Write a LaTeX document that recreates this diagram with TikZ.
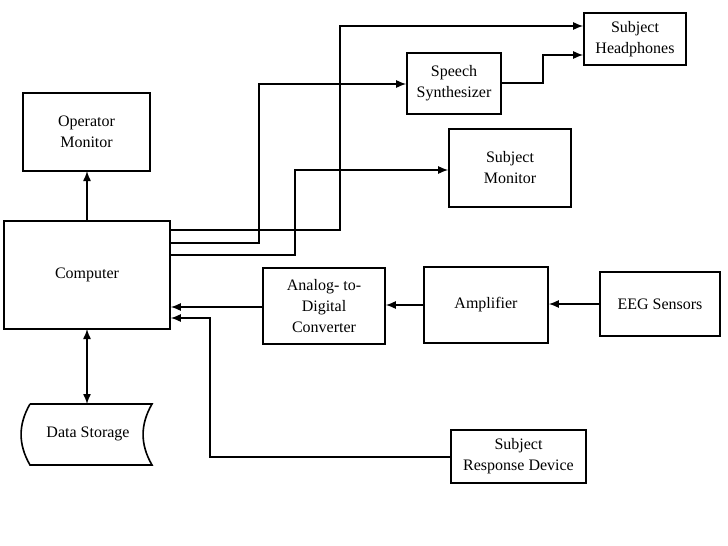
\documentclass[tikz,border=0pt]{standalone}
\usepackage{fontspec}
\setmainfont{Liberation Serif}
\usetikzlibrary{arrows.meta}
\begin{document}
\begin{tikzpicture}[x=1pt,y=-1pt,
  box/.style={draw,line width=1.6pt,align=center,inner sep=0pt,font=\fontsize{16}{21}\selectfont},
  ar/.style={line width=1.4pt,-{Latex[length=10pt,width=8pt]}},
  ln/.style={line width=1.4pt}]
\useasboundingbox (0,0) rectangle (728,546);
\newcommand{\bx}[6]{\node[box,minimum width=#4-#2,minimum height=#5-#3] (#1) at ({(#2+#4)/2},{(#3+#5)/2}) {#6};}
\bx{om}{23}{93}{150}{171}{Operator\\Monitor}
\bx{comp}{4}{221}{170}{329}{Computer}
\bx{sp}{407}{53}{501}{114}{Speech\\Synthesizer}
\bx{hp}{584}{13}{686}{65}{Subject\\Headphones}
\bx{sm}{449}{129}{571}{207}{Subject\\Monitor}
\bx{adc}{263}{268}{385}{344}{Analog- to-\\Digital\\Converter}
\bx{amp}{424}{267}{548}{343}{Amplifier}
\bx{eeg}{600}{272}{720}{336}{EEG Sensors}
\bx{srd}{451}{430}{586}{483}{Subject\\Response Device}
% data storage
\draw[line width=1.6pt] (30,404) -- (152,404) to[out=240,in=120] (152,465) -- (30,465) to[out=120,in=240] (30,404);
\node[font=\fontsize{16}{21}\selectfont] (ds) at (88,434) {Data Storage};
\coordinate (dstop) at (87,404);
% connectors
\draw[ar] (87,221) -- (87,171);
\draw[line width=1.4pt,{Latex[length=10pt,width=8pt]}-{Latex[length=10pt,width=8pt]}] (87,329) -- (dstop);
\draw[ar] (170,230) -| (340,26) -- (hp.west |- 0,26);
\draw[ar] (170,243) -| (259,84) -- (sp.west |- 0,84);
\draw[ar] (170,255) -| (295,170) -- (sm.west |- 0,170);
\draw[ar] (sp.east |- 0,83) -| (543,55) -- (hp.west |- 0,55);
\draw[ar] (adc.west |- 0,307) -- (comp.east |- 0,307);
\draw[ar] (amp.west |- 0,305) -- (adc.east |- 0,305);
\draw[ar] (eeg.west |- 0,304) -- (amp.east |- 0,304);
\draw[ar] (srd.west |- 0,457) -| (210,318) -- (comp.east |- 0,318);
\end{tikzpicture}
\end{document}
